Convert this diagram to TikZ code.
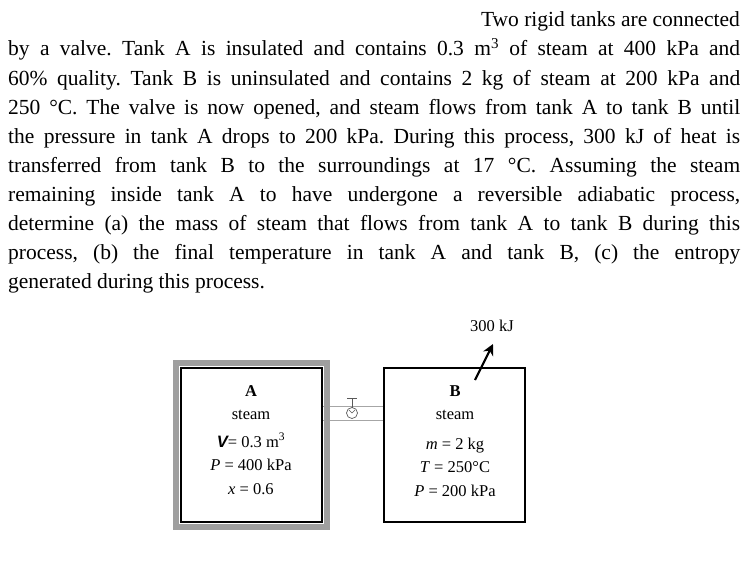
\documentclass[tikz,border=0pt]{standalone}
\usepackage{fontspec}
\setmainfont{Liberation Serif}
\newfontfamily\vfont{Liberation Sans}
\usetikzlibrary{arrows.meta}
\frenchspacing
\begin{document}
\begin{tikzpicture}[x=1pt,y=-1pt,
  ln/.style={anchor=base west,inner sep=0pt,font=\fontsize{21.5}{24}\selectfont},
  lbl/.style={inner sep=0pt,anchor=base,font=\fontsize{16.5}{18}\selectfont},
  tank/.style={draw=black,line width=2pt}]
\useasboundingbox (0,0) rectangle (753,578);
\newcommand{\jl}[1]{\makebox[732pt][s]{#1}}
\node[ln,anchor=base east] (l1) at (740,27) {Two rigid tanks are connected};
\node[ln] (l2) at (8,56) {\jl{by a valve. Tank A is insulated and contains 0.3 m\textsuperscript{3} of steam at 400 kPa and}};
\node[ln] (l3) at (8,85) {\jl{60\% quality. Tank B is uninsulated and contains 2 kg of steam at 200 kPa and}};
\node[ln] (l4) at (8,114) {\jl{250 °C. The valve is now opened, and steam flows from tank A to tank B until}};
\node[ln] (l5) at (8,143) {\jl{the pressure in tank A drops to 200 kPa. During this process, 300 kJ of heat is}};
\node[ln] (l6) at (8,172) {\jl{transferred from tank B to the surroundings at 17 °C. Assuming the steam}};
\node[ln] (l7) at (8,201) {\jl{remaining inside tank A to have undergone a reversible adiabatic process,}};
\node[ln] (l8) at (8,230) {\jl{determine (a) the mass of steam that flows from tank A to tank B during this}};
\node[ln] (l9) at (8,259) {\jl{process, (b) the final temperature in tank A and tank B, (c) the entropy}};
\node[ln] (l10) at (8,288) {generated during this process.};
% pipe
\draw[gray!70,line width=0.6pt] (323,406) -- (383,406) (323,420) -- (383,420);
% valve
\draw[gray!70!black,line width=0.7pt] (352,413) circle (5.5);
\draw[gray!70!black,line width=0.7pt] (352,407.5) -- (352,398) (347,398) -- (357,398);
\draw[gray!70!black,line width=0.5pt] (349,410) -- (352,413) -- (355,410);
% tank A
\draw[gray!75,line width=6pt] (176,363) rectangle (327,527);
\draw[tank] (181,368) rectangle (322,522);
% tank B
\draw[tank] (384,368) rectangle (525,522);
\node[lbl,font=\fontsize{16.5}{18}\selectfont\bfseries] (a1) at (251,396) {A};
\node[lbl] (a2) at (251,419) {steam};
\node[lbl] (a3) at (251,447) {{\vfont\bfseries\itshape V}= 0.3 m\textsuperscript{3}};
\node[lbl] (a4) at (251,470) {\textit{P} = 400 kPa};
\node[lbl] (a5) at (251,494) {\textit{x} = 0.6};
\node[lbl,font=\fontsize{16.5}{18}\selectfont\bfseries] (b1) at (455,396) {B};
\node[lbl] (b2) at (455,419) {steam};
\node[lbl] (b3) at (455,449) {\textit{m} = 2 kg};
\node[lbl] (b4) at (455,472) {\textit{T} = 250°C};
\node[lbl] (b5) at (455,496) {\textit{P} = 200 kPa};
\node[lbl] (q) at (492,331) {300 kJ};
\coordinate (qs) at (475,380);
\coordinate (qe) at (493,344);
\draw[line width=2.2pt,-{Stealth[length=11pt,width=11pt]}] (qs) -- (qe);
\end{tikzpicture}
\end{document}
